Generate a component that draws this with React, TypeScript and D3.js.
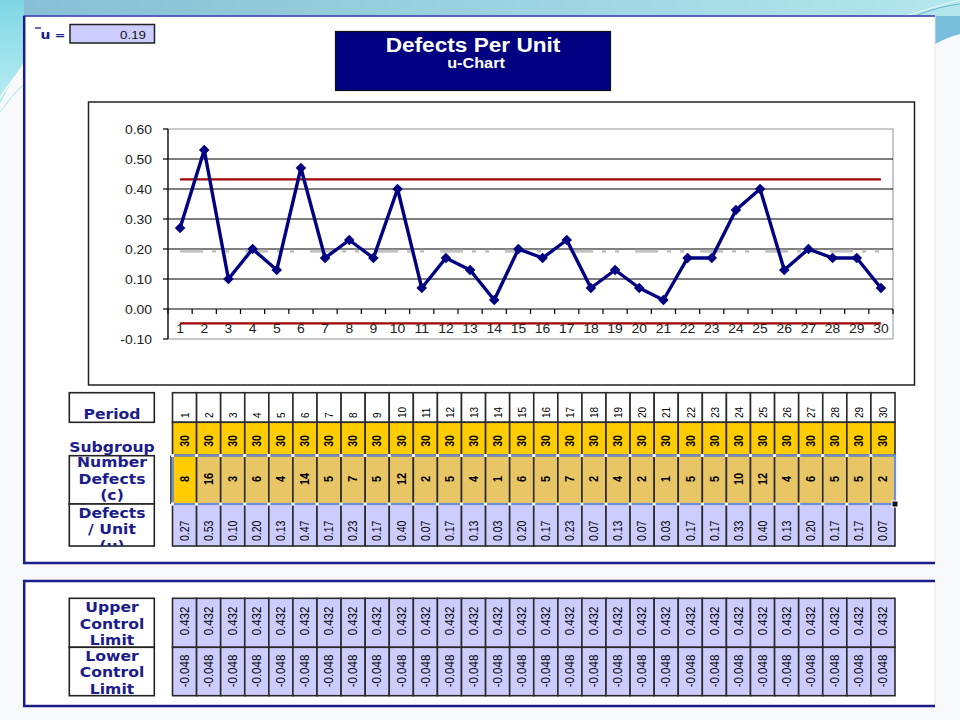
import React from 'react';
import * as d3 from 'd3';

// chart data
const periods = [1, 2, 3, 4, 5, 6, 7, 8, 9, 10, 11, 12, 13, 14, 15, 16, 17, 18, 19, 20, 21, 22, 23, 24, 25, 26, 27, 28, 29, 30];
const subgroup = [30, 30, 30, 30, 30, 30, 30, 30, 30, 30, 30, 30, 30, 30, 30, 30, 30, 30, 30, 30, 30, 30, 30, 30, 30, 30, 30, 30, 30, 30];
const defects = [8, 16, 3, 6, 4, 14, 5, 7, 5, 12, 2, 5, 4, 1, 6, 5, 7, 2, 4, 2, 1, 5, 5, 10, 12, 4, 6, 5, 5, 2];
const perUnit = [0.27, 0.53, 0.10, 0.20, 0.13, 0.47, 0.17, 0.23, 0.17, 0.40, 0.07, 0.17, 0.13, 0.03, 0.20, 0.17, 0.23, 0.07, 0.13, 0.07, 0.03, 0.17, 0.17, 0.33, 0.40, 0.13, 0.20, 0.17, 0.17, 0.07];
const ucl = [0.432, 0.432, 0.432, 0.432, 0.432, 0.432, 0.432, 0.432, 0.432, 0.432, 0.432, 0.432, 0.432, 0.432, 0.432, 0.432, 0.432, 0.432, 0.432, 0.432, 0.432, 0.432, 0.432, 0.432, 0.432, 0.432, 0.432, 0.432, 0.432, 0.432];
const lcl = [-0.048, -0.048, -0.048, -0.048, -0.048, -0.048, -0.048, -0.048, -0.048, -0.048, -0.048, -0.048, -0.048, -0.048, -0.048, -0.048, -0.048, -0.048, -0.048, -0.048, -0.048, -0.048, -0.048, -0.048, -0.048, -0.048, -0.048, -0.048, -0.048, -0.048];
const uBar = 0.1922;
const yTicks = [-0.1, 0, 0.1, 0.2, 0.3, 0.4, 0.5, 0.6];

const NAVY = '#000080';
const LABEL = '#1c1c8c';
const RED = '#a00000';
const SX = 1.16; // the sheet picture is stretched sideways
const ARIAL = 'Liberation Sans, Arial, sans-serif';
const VERD = 'DejaVu Sans, Verdana, sans-serif';

// horizontally stretched text
const T = ({ x, y, size, children, anchor = 'middle', weight = 'normal', fill = '#000', family = ARIAL, rot = false }: any) => (
  <text
    transform={`translate(${x},${y}) scale(${SX},1)${rot ? ' rotate(-90)' : ''}`}
    fontSize={size}
    fontFamily={family}
    fontWeight={weight}
    fill={fill}
    textAnchor={anchor}
    dominantBaseline={rot ? 'central' : 'auto'}
  >
    {children}
  </text>
);

const App = () => {
  // Scales for the chart
  const x = d3.scaleBand<number>().domain(periods).range([168, 893]);
  const y = d3.scaleLinear().domain([-0.1, 0.6]).range([339, 129]);
  const cx = (p: number) => (x(p) as number) + x.bandwidth() / 2;
  const x0 = cx(periods[0]);
  const x1 = cx(periods[periods.length - 1]);

  // Scale for table columns
  const col = d3.scaleBand<number>().domain(periods).range([172.5, 895]);
  const cw = col.bandwidth();

  const line = d3
    .line<number>()
    .x((d, i) => cx(periods[i]))
    .y((d) => y(d));
  const diamond = d3.symbol(d3.symbolSquare, 56)();

  // table rows
  const rows = [
    { key: 'period', y0: 392.7, y1: 422.3, fill: '#ffffff', vals: periods.map(String), size: 10, weight: 'normal', anchor: 'start', pos: 418 },
    { key: 'sub', y0: 422.3, y1: 455.5, fill: '#ffcc00', vals: subgroup.map(String), size: 10.5, weight: 'bold', anchor: 'middle', pos: 441 },
    { key: 'c', y0: 455.5, y1: 504, fill: '#e8c565', vals: defects.map(String), size: 11, weight: 'bold', anchor: 'middle', pos: 479 },
    { key: 'u', y0: 504, y1: 546, fill: '#ccccff', vals: perUnit.map((v) => v.toFixed(2)), size: 10.5, weight: 'normal', anchor: 'start', pos: 541 },
    { key: 'ucl', y0: 598.3, y1: 647.3, fill: '#ccccff', vals: ucl.map((v) => v.toFixed(3)), size: 11.5, weight: 'normal', anchor: 'middle', pos: 621 },
    { key: 'lcl', y0: 647.3, y1: 695.7, fill: '#ccccff', vals: lcl.map((v) => v.toFixed(3)), size: 11.5, weight: 'normal', anchor: 'middle', pos: 671 },
  ];

  const labelBoxes = [
    { y0: 392.7, y1: 422.3, lines: ['Period'], base: 418.5 },
    { y0: 455.7, y1: 504, lines: ['Number', 'Defects', '(c)'], base: 467 },
    { y0: 504, y1: 546, lines: ['Defects', '/ Unit', '(u)'], base: 517.5 },
    { y0: 598.3, y1: 647.3, lines: ['Upper', 'Control', 'Limit'], base: 612 },
    { y0: 647.3, y1: 695.7, lines: ['Lower', 'Control', 'Limit'], base: 660.5 },
  ];

  return (
    <svg width={960} height={720} style={{ position: 'fixed', left: 0, top: 0 }}>
      <defs>
        <linearGradient id="band" x1="0" x2="1" y1="0" y2="0">
          <stop offset="0" stopColor="#86bfd4" />
          <stop offset="0.6" stopColor="#9fd6e2" />
          <stop offset="1" stopColor="#b4e7ee" />
        </linearGradient>
        <linearGradient id="swoosh" x1="0" x2="0" y1="0" y2="1">
          <stop offset="0" stopColor="#7fd6e4" />
          <stop offset="1" stopColor="#b9eef2" />
        </linearGradient>
        {labelBoxes.map((b, i) => (
          <clipPath id={`lb${i}`} key={i}>
            <rect x={69.3} y={b.y0} width={85} height={b.y1 - b.y0} />
          </clipPath>
        ))}
      </defs>

      {/* Slide background */}
      <rect width={960} height={720} fill="#f8f9fb" />
      <rect width={960} height={17} fill="url(#band)" />
      <path d="M0,0 H24 V62 Q12,80 0,104 Z" fill="url(#swoosh)" />
      <path d="M0,98 Q10,82 24,66" fill="none" stroke="#ffffff" strokeWidth={1.2} />
      <path d="M0,112 Q12,95 24,84" fill="none" stroke="#9fe3ec" strokeWidth={1} />
      <path d="M935,16 H960 V34 Q948,37 935,44 Z" fill="#79bedb" />
      <path d="M905,16 Q930,8 960,0" fill="none" stroke="#e8f8fb" strokeWidth={1} />
      <path d="M915,16 Q940,6 960,4" fill="none" stroke="#5aa9c9" strokeWidth={0.8} />

      {/* Panel 1 */}
      <rect x={23.5} y={16} width={911.5} height={547} fill="#ffffff" stroke="#e2e5ea" strokeWidth={1} />
      <line x1={23.5} x2={935} y1={16} y2={16} stroke="#3434b0" strokeWidth={1.5} />
      <line x1={24.2} x2={24.2} y1={16} y2={564} stroke="#1d1d8a" strokeWidth={2.5} />
      <line x1={23} x2={935} y1={563} y2={563} stroke="#1d1d8a" strokeWidth={2.5} />

      {/* Panel 2 */}
      <rect x={23.5} y={581} width={911.5} height={125} fill="#ffffff" stroke="#e2e5ea" strokeWidth={1} />
      <line x1={23} x2={935} y1={581} y2={581} stroke="#1d1d8a" strokeWidth={2.5} />
      <line x1={23} x2={935} y1={706} y2={706} stroke="#1d1d8a" strokeWidth={2.5} />
      <line x1={24.2} x2={24.2} y1={580} y2={707} stroke="#1d1d8a" strokeWidth={2.5} />

      {/* u-bar */}
      <line x1={35} x2={41} y1={28} y2={28} stroke={LABEL} strokeWidth={1.3} />
      <T x={45.5} y={38.5} size={12} weight="bold" fill={LABEL} family={VERD}>u</T>
      <T x={60} y={38.5} size={11} weight="bold" fill={LABEL} family={VERD}>=</T>
      <rect x={70} y={24.5} width={84.5} height={18.5} fill="#ccccff" stroke="#222" strokeWidth={1.5} />
      <T x={146} y={38.5} size={11.5} anchor="end" fill="#111">{uBar.toFixed(2)}</T>

      {/* Title box */}
      <rect x={335.5} y={31.5} width={275} height={59} fill={NAVY} stroke="#111" strokeWidth={1.2} />
      <T x={473} y={51.5} size={19.5} weight="bold" fill="#ffffff">Defects Per Unit</T>
      <T x={476} y={67.5} size={14} weight="bold" fill="#ffffff">u-Chart</T>

      {/* Chart frame */}
      <rect x={88.5} y={102} width={826} height={283} fill="#ffffff" stroke="#222" strokeWidth={1.5} />

      {/* Plot area */}
      <rect x={168} y={y(0.6)} width={893 - 168} height={y(-0.1) - y(0.6)} fill="none" stroke="#a6a6a6" strokeWidth={1.2} />
      {yTicks.filter((t) => t > -0.05 && t < 0.55).map((t) => (
        <line key={t} x1={168} x2={893} y1={y(t)} y2={y(t)} stroke="#000" strokeWidth={1.2} />
      ))}
      <line x1={168} x2={168} y1={y(0.6)} y2={y(-0.1)} stroke="#000" strokeWidth={1.2} />
      {yTicks.map((t) => (
        <g key={t}>
          <line x1={163} x2={168} y1={y(t)} y2={y(t)} stroke="#000" strokeWidth={1.2} />
          <T x={152} y={y(t) + 4.5} size={12} anchor="end" fill="#222">{t.toFixed(2)}</T>
        </g>
      ))}
      {periods.map((p) => (
        <line key={p} x1={x(p)} x2={x(p)} y1={y(0)} y2={y(0) + 5} stroke="#000" strokeWidth={1.2} />
      ))}
      <line x1={893} x2={893} y1={y(0)} y2={y(0) + 5} stroke="#000" strokeWidth={1.2} />

      {/* centre line */}
      <line x1={x0} x2={x1} y1={y(uBar)} y2={y(uBar)} stroke="#c4c4c4" strokeWidth={3} strokeDasharray="23 9 4 9 4 16" />

      {/* control limits */}
      <path d={line(ucl) as string} fill="none" stroke={RED} strokeWidth={2.2} />
      <path d={line(lcl) as string} fill="none" stroke={RED} strokeWidth={2.2} />

      {/* x labels */}
      {periods.map((p) => (
        <T key={p} x={cx(p)} y={332.5} size={12} fill="#222">{p}</T>
      ))}

      {/* u series */}
      <path d={line(perUnit) as string} fill="none" stroke={NAVY} strokeWidth={3.4} strokeLinejoin="round" />
      {perUnit.map((v, i) => (
        <path key={i} d={diamond as string} transform={`translate(${cx(periods[i])},${y(v)}) rotate(45)`} fill={NAVY} />
      ))}

      {/* Table cells */}
      {rows.map((r) => (
        <g key={r.key}>
          {periods.map((p, i) => (
            <g key={p}>
              <rect
                x={col(p)}
                y={r.y0}
                width={cw}
                height={r.y1 - r.y0}
                fill={r.key === 'c' && i === 0 ? '#ffcc00' : r.fill}
                stroke="#2a2a2a"
                strokeWidth={1.6}
              />
              <T x={(col(p) as number) + cw / 2} y={r.pos} size={r.size} weight={r.weight} anchor={r.anchor} rot>
                {r.vals[i]}
              </T>
            </g>
          ))}
        </g>
      ))}

      {/* selection around the defects row */}
      <line x1={171} x2={171} y1={455.5} y2={504} stroke="#111" strokeWidth={1.5} />
      <rect x={172.5} y={455.5} width={895 - 172.5} height={48.5} fill="none" stroke="#6d8fd8" strokeWidth={2.2} />
      {periods.map((p) => (
        <g key={p}>
          <rect x={(col(p) as number) - 1.5} y={454} width={3} height={3} fill="#ffffff" />
          <rect x={(col(p) as number) - 1.5} y={502.5} width={3} height={3} fill="#ffffff" />
        </g>
      ))}
      <rect x={892} y={501} width={6} height={6} fill="#111" stroke="#fff" strokeWidth={1} />

      {/* row labels */}
      {labelBoxes.map((b, i) => (
        <g key={i}>
          <rect x={69.3} y={b.y0} width={85} height={b.y1 - b.y0} fill="#ffffff" stroke="#222" strokeWidth={1.6} />
          <g clipPath={`url(#lb${i})`}>
            {b.lines.map((t, j) => (
              <T key={j} x={112} y={b.base + j * 16.5} size={13.5} weight="bold" fill={LABEL} family={VERD}>{t}</T>
            ))}
          </g>
        </g>
      ))}
      <T x={112} y={452} size={13.5} weight="bold" fill={LABEL} family={VERD}>Subgroup</T>
    </svg>
  );
};

export default App;
